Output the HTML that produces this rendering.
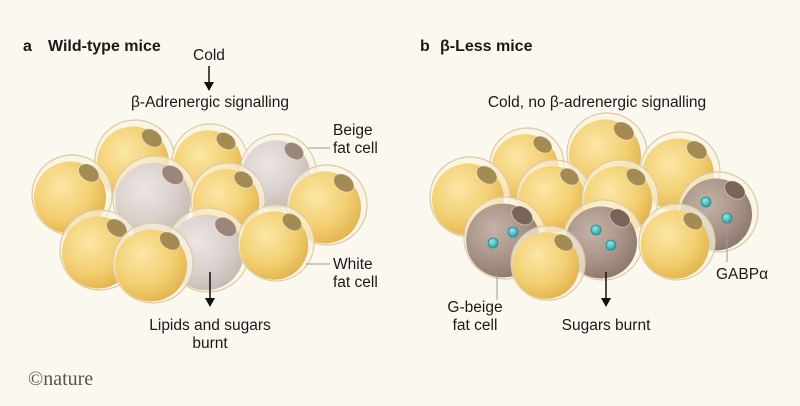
<!DOCTYPE html>
<html><head><meta charset="utf-8"><style>
html,body{margin:0;padding:0;background:#fbf8ef;}
svg{display:block;}
text{font-family:"Liberation Sans",sans-serif;font-size:15.5px;fill:#1a1a1a;}
</style></head><body>
<svg id="s" width="800" height="406" viewBox="0 0 800 406" xmlns="http://www.w3.org/2000/svg">
<defs>
<radialGradient id="gy" cx="0.38" cy="0.35" r="0.7"><stop offset="0" stop-color="#fbe7a6"/><stop offset="0.6" stop-color="#f3cf72"/><stop offset="1" stop-color="#e2b34c"/></radialGradient>
<radialGradient id="gw" cx="0.38" cy="0.35" r="0.7"><stop offset="0" stop-color="#ece6e2"/><stop offset="0.6" stop-color="#d9d0cc"/><stop offset="1" stop-color="#c4b9b4"/></radialGradient>
<radialGradient id="gb" cx="0.38" cy="0.35" r="0.7"><stop offset="0" stop-color="#c4b3a8"/><stop offset="0.6" stop-color="#a89287"/><stop offset="1" stop-color="#8c776c"/></radialGradient>
<radialGradient id="gt" cx="0.4" cy="0.35" r="0.6"><stop offset="0" stop-color="#9fe6e6"/><stop offset="1" stop-color="#2aa8ac"/></radialGradient>
</defs>
<g id="cells"></g>
<text x="23" y="51" style="font-weight:bold;font-size:16px">a</text>
<text x="48" y="51" style="font-weight:bold;font-size:16px">Wild-type mice</text>
<text x="209" y="60" text-anchor="middle">Cold</text>
<line x1="209" y1="66" x2="209" y2="84" stroke="#111" stroke-width="1.5"/>
<polygon points="204,82 214,82 209,91" fill="#111"/>
<text x="210" y="107" text-anchor="middle">β-Adrenergic signalling</text>
<text x="333" y="135">Beige</text><text x="333" y="153">fat cell</text>
<line x1="308" y1="148" x2="330" y2="148" stroke="#999" stroke-width="1"/>
<text x="333" y="269">White</text><text x="333" y="287">fat cell</text>
<line x1="306" y1="264" x2="330" y2="264" stroke="#999" stroke-width="1"/>
<line x1="210" y1="272" x2="210" y2="300" stroke="#111" stroke-width="1.5"/>
<polygon points="205,298 215,298 210,307" fill="#111"/>
<text x="210" y="330" text-anchor="middle">Lipids and sugars</text>
<text x="210" y="348" text-anchor="middle">burnt</text>

<text x="420" y="51" style="font-weight:bold;font-size:16px">b</text>
<text x="440" y="51" style="font-weight:bold;font-size:16px">β-Less mice</text>
<text x="597" y="107" text-anchor="middle">Cold, no β-adrenergic signalling</text>
<line x1="497" y1="275" x2="497" y2="300" stroke="#999" stroke-width="1"/>
<text x="475" y="312" text-anchor="middle">G-beige</text><text x="475" y="330" text-anchor="middle">fat cell</text>
<line x1="606" y1="272" x2="606" y2="300" stroke="#111" stroke-width="1.5"/>
<polygon points="601,298 611,298 606,307" fill="#111"/>
<text x="606" y="330" text-anchor="middle">Sugars burnt</text>
<line x1="727" y1="220" x2="727" y2="262" stroke="#999" stroke-width="1"/>
<text x="716" y="279">GABPα</text>
<text x="28" y="385" style="font-family:'Liberation Serif',serif;font-size:20px;fill:#555">©nature</text>
</svg>
<script>
var cells=[
[135,160,40,'y'],[210,162,38,'y'],[278,172,38,'w'],[72,195,40,'y'],[155,198,42,'w'],[228,200,37,'y'],[327,205,40,'y'],
[100,250,40,'y'],[208,250,42,'w'],[276,243,38,'y'],[153,263,40,'y'],
[527,165,37,'y'],[607,153,40,'y'],[680,172,40,'y'],[470,197,40,'y'],[554,197,37,'y'],[620,198,38,'y'],[718,212,40,'b',[[706,202],[727,218]]],
[505,238,41,'b',[[513,232],[493,243]]],[603,240,40,'b',[[596,230],[611,245]]],[677,242,38,'y'],[548,263,37,'y']
];
var g=document.getElementById('cells'),h='';
var nuc={y:'#a48b52',w:'#9c857a',b:'#7a6358'};
cells.forEach(function(c){
 var x=c[0],y=c[1],r=c[2],t=c[3];
 h+='<circle cx="'+x+'" cy="'+y+'" r="'+r+'" fill="#fbf3e0" fill-opacity="0.7" stroke="#dcc9a8" stroke-width="1.2"/>';
 var ir=r*0.9;
 h+='<circle cx="'+(x-2)+'" cy="'+(y+2.5)+'" r="'+ir+'" fill="url(#g'+t+')"/>';
 var nx=x+r*0.42,ny=y-r*0.55;
 h+='<ellipse cx="'+nx+'" cy="'+ny+'" rx="'+(r*0.28)+'" ry="'+(r*0.2)+'" transform="rotate(35 '+nx+' '+ny+')" fill="'+nuc[t]+'" stroke="#fff" stroke-opacity="0.4"/>';
 if(c[4])c[4].forEach(function(d){h+='<circle cx="'+d[0]+'" cy="'+d[1]+'" r="5" fill="url(#gt)" stroke="#1e8a8e" stroke-width="0.8"/>';});
});
g.innerHTML=h;
</script>
</body></html>
